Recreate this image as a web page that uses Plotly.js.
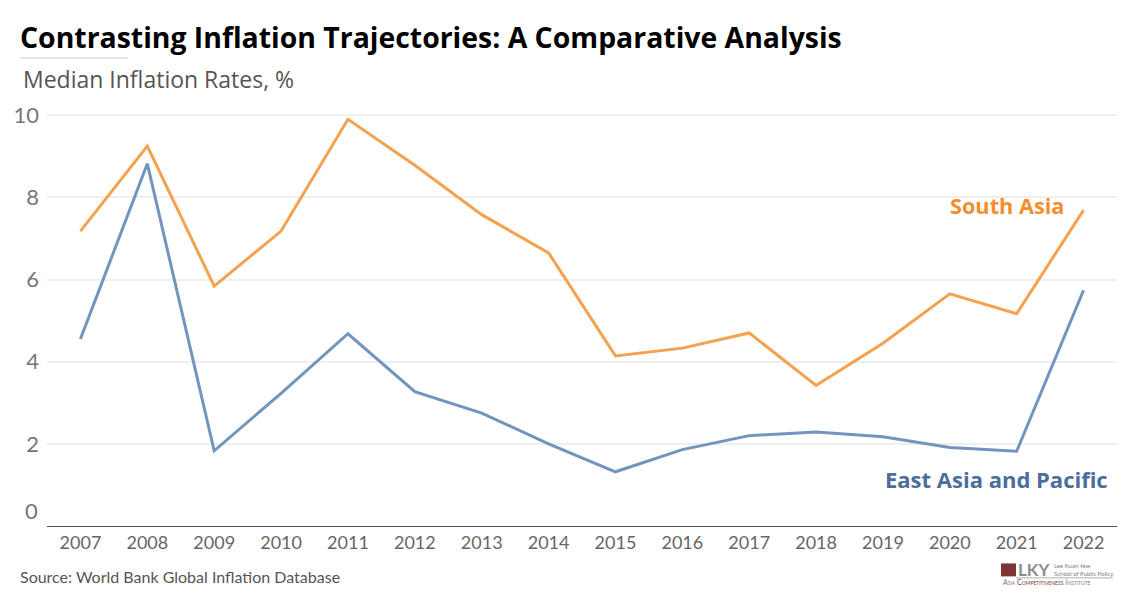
<!DOCTYPE html>
<html>
<head>
<meta charset="utf-8">
<script src="https://cdn.plot.ly/plotly-3.0.1.min.js"></script>
<style>
  html, body { margin: 0; padding: 0; background: #fff; }
  #chart { width: 1140px; height: 600px; }
</style>
</head>
<body>
<div id="chart"></div>
<script>
// Median inflation rates (%) by region, 2007-2022
const years = [2007, 2008, 2009, 2010, 2011, 2012, 2013, 2014, 2015, 2016, 2017, 2018, 2019, 2020, 2021, 2022];
const southAsia = [7.18, 9.25, 5.84, 7.18, 9.90, 8.78, 7.58, 6.65, 4.14, 4.33, 4.70, 3.42, 4.45, 5.65, 5.17, 7.69];
const eastAsiaPacific = [4.55, 8.82, 1.83, 3.23, 4.68, 3.27, 2.75, 2.00, 1.32, 1.86, 2.20, 2.29, 2.17, 1.91, 1.82, 5.74];
const yTicks = [0, 2, 4, 6, 8, 10];

const FONT = 'Lato, "Open Sans", sans-serif';
const HEAD_FONT = '"Open Sans", Lato, sans-serif';
const ORANGE_LINE = '#f4a24f';
const BLUE_LINE = '#7394bc';
const ORANGE_TEXT = '#f28e2b';
const BLUE_TEXT = '#4b6e9b';

const traces = [
  {
    x: years, y: southAsia, name: 'South Asia', type: 'scatter', mode: 'lines',
    line: { color: ORANGE_LINE, width: 3 }, hoverinfo: 'x+y'
  },
  {
    x: years, y: eastAsiaPacific, name: 'East Asia and Pacific', type: 'scatter', mode: 'lines',
    line: { color: BLUE_LINE, width: 3 }, hoverinfo: 'x+y'
  }
];

const last = years.length - 1;

const layout = {
  width: 1140,
  height: 600,
  margin: { l: 47, r: 23, t: 106.5, b: 73.5 },
  paper_bgcolor: '#ffffff',
  plot_bgcolor: '#ffffff',
  showlegend: false,
  font: { family: FONT, color: '#666' },
  title: {
    text: '<b>Contrasting Inflation Trajectories: A Comparative Analysis</b>',
    font: { family: HEAD_FONT, size: 28.4, color: '#000' },
    xref: 'container', x: 20 / 1140, xanchor: 'left',
    yref: 'container', y: 1 - 38 / 600, yanchor: 'middle'
  },
  xaxis: {
    range: [years[0] - 0.5, years[last] + 0.5],
    tickvals: years,
    ticktext: years.map(String),
    showgrid: false,
    zeroline: false,
    showline: true,
    linecolor: '#555',
    linewidth: 1.2,
    ticks: '',
    ticklabelstandoff: 0,
    tickfont: { family: FONT, size: 18, color: '#666' },
    fixedrange: true
  },
  yaxis: {
    range: [0, 10.2],
    tickvals: yTicks.slice(1),
    ticktext: yTicks.slice(1).map(String),
    showgrid: true,
    gridcolor: '#efefef',
    gridwidth: 1.5,
    zeroline: false,
    showline: false,
    ticks: '',
    ticklabelstandoff: 7,
    tickfont: { family: FONT, size: 22, color: '#777' },
    fixedrange: true
  },
  shapes: [
    // short rule under the title
    { type: 'line', xref: 'paper', yref: 'paper',
      x0: (20 - 47) / 1070, x1: (128 - 47) / 1070, y0: (526.5 - 57.5) / 420, y1: (526.5 - 57.5) / 420,
      line: { color: '#e6e6e6', width: 2 } },
    // logo square
    { type: 'rect', xref: 'paper', yref: 'paper',
      x0: (1001 - 47) / 1070, x1: (1016 - 47) / 1070, y0: (526.5 - 577) / 420, y1: (526.5 - 564) / 420,
      fillcolor: '#7e3434', line: { width: 0 } },
    // logo rule
    { type: 'line', xref: 'paper', yref: 'paper',
      x0: (1016 - 47) / 1070, x1: (1113 - 47) / 1070, y0: (526.5 - 578.5) / 420, y1: (526.5 - 578.5) / 420,
      line: { color: '#9a9a9a', width: 0.8 } }
  ],
  annotations: [
    { text: 'Median Inflation Rates, %', xref: 'paper', yref: 'paper',
      x: (21 - 47) / 1070, y: (526.5 - 78) / 420, xanchor: 'left', yanchor: 'middle',
      showarrow: false, font: { family: HEAD_FONT, size: 23, color: '#555' } },
    // zero label sits just above the axis line
    { text: String(yTicks[0]), xref: 'paper', yref: 'y', x: 0, y: yTicks[0],
      xanchor: 'right', yanchor: 'bottom', xshift: -7, yshift: 0,
      showarrow: false, font: { family: FONT, size: 22, color: '#777' } },
    { text: '<b>South Asia</b>', xref: 'x', yref: 'y', x: years[last], y: southAsia[last],
      xanchor: 'right', yanchor: 'middle', xshift: -18, yshift: 5,
      showarrow: false, font: { family: HEAD_FONT, size: 21.7, color: ORANGE_TEXT } },
    { text: '<b>East Asia and Pacific</b>', xref: 'paper', yref: 'paper',
      x: (1110 - 47) / 1070, y: (526.5 - 479) / 420, xanchor: 'right', yanchor: 'middle',
      showarrow: false, font: { family: HEAD_FONT, size: 22, color: BLUE_TEXT } },
    { text: 'Source: World Bank Global Inflation Database', xref: 'paper', yref: 'paper',
      x: (18 - 47) / 1070, y: (526.5 - 577) / 420, xanchor: 'left', yanchor: 'middle',
      showarrow: false, font: { family: FONT, size: 16, color: '#555' } },
    // logo text
    { text: '<b>LKY</b>', xref: 'paper', yref: 'paper',
      x: (1016 - 47) / 1070, y: (526.5 - 570.5) / 420, xanchor: 'left', yanchor: 'middle',
      showarrow: false, font: { family: FONT, size: 17, color: '#8d8d8d' } },
    { text: 'Lee Kuan Yew<br>School of Public Policy', xref: 'paper', yref: 'paper',
      x: (1052 - 47) / 1070, y: (526.5 - 570.5) / 420, xanchor: 'left', yanchor: 'middle', align: 'left',
      showarrow: false, font: { family: FONT, size: 6, color: '#7d7d7d' } },
    { text: 'A<span style="font-size:5px">SIA</span> <span style="color:#7e3434">C<span style="font-size:5px">OMPETITIVENESS</span></span> I<span style="font-size:5px">NSTITUTE</span>',
      xref: 'paper', yref: 'paper',
      x: (1001 - 47) / 1070, y: (526.5 - 583) / 420, xanchor: 'left', yanchor: 'middle',
      showarrow: false, font: { family: FONT, size: 7, color: '#7d7d7d' } }
  ]
};

Plotly.newPlot('chart', traces, layout, { displayModeBar: false, staticPlot: false, responsive: false });
</script>
</body>
</html>
